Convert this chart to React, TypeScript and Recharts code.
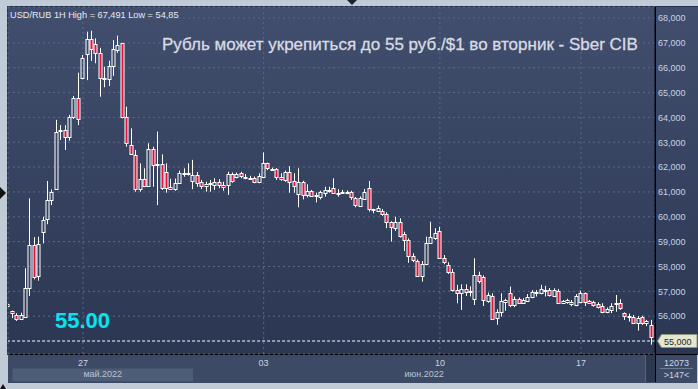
import React from 'react';
import { ComposedChart, Bar, XAxis, YAxis, CartesianGrid, ReferenceLine } from 'recharts';

const opens = [56.50, 56.20, 56.05, 55.89, 55.98, 57.12, 58.85, 57.60, 59.40, 59.90, 60.66, 61.10, 63.44, 63.49, 63.22, 64.03, 64.77, 65.57, 66.54, 67.14, 66.94, 66.58, 65.53, 65.53, 66.07, 66.71, 66.98, 64.03, 62.88, 62.49, 61.11, 61.51, 61.25, 62.72, 62.10, 62.11, 61.79, 61.19, 61.11, 61.37, 61.72, 61.76, 61.45, 61.68, 61.39, 61.24, 61.32, 61.29, 61.41, 61.28, 61.28, 61.72, 61.59, 61.75, 61.60, 61.56, 61.55, 61.41, 61.61, 62.15, 61.88, 61.92, 61.59, 61.48, 61.79, 61.44, 60.91, 61.41, 60.88, 61.04, 60.84, 60.78, 60.95, 61.03, 61.15, 60.95, 60.95, 60.96, 60.99, 60.77, 60.45, 60.72, 61.15, 60.29, 60.23, 60.23, 60.11, 59.78, 59.54, 59.78, 59.30, 59.07, 58.42, 58.23, 57.62, 58.09, 58.96, 59.16, 59.43, 58.33, 58.06, 57.79, 57.05, 56.92, 57.08, 56.96, 56.68, 57.66, 57.59, 56.62, 56.83, 55.92, 56.18, 56.58, 56.95, 56.45, 56.68, 56.52, 56.62, 56.79, 56.94, 56.92, 57.02, 57.04, 56.83, 57.03, 56.52, 56.55, 56.58, 56.45, 56.58, 56.92, 56.62, 56.56, 56.49, 56.41, 56.18, 56.25, 56.50, 56.52, 56.12, 55.98, 55.98, 55.71, 55.96, 55.71, 55.65];
const highs = [56.60, 56.22, 56.12, 56.14, 57.93, 60.74, 59.18, 59.20, 60.00, 61.44, 61.10, 63.90, 63.69, 63.69, 64.10, 64.86, 65.80, 66.51, 67.45, 67.49, 67.18, 66.80, 66.04, 66.28, 67.11, 67.29, 67.00, 64.43, 63.56, 62.69, 62.15, 61.95, 62.96, 62.82, 63.43, 62.51, 62.15, 61.53, 61.54, 61.86, 61.95, 62.15, 62.29, 61.80, 61.48, 61.41, 61.48, 61.55, 61.51, 61.41, 61.81, 61.78, 61.78, 61.81, 61.72, 61.65, 61.62, 61.75, 62.59, 62.18, 61.98, 61.96, 61.75, 61.86, 62.04, 61.75, 61.95, 61.45, 61.31, 61.08, 60.97, 61.05, 61.21, 61.21, 61.55, 61.11, 61.08, 61.06, 61.05, 60.80, 60.82, 61.12, 61.44, 60.32, 60.45, 60.31, 60.18, 59.82, 60.00, 59.94, 59.40, 59.13, 58.53, 58.28, 58.22, 59.20, 59.80, 59.54, 59.60, 58.46, 58.17, 57.90, 57.26, 57.28, 57.28, 57.20, 58.33, 57.79, 57.64, 56.95, 56.92, 56.28, 56.92, 56.70, 57.19, 56.79, 56.75, 56.72, 56.89, 57.05, 57.05, 57.26, 57.22, 57.13, 57.12, 57.09, 56.65, 56.70, 56.65, 56.89, 57.03, 56.95, 56.65, 56.62, 56.56, 56.52, 56.35, 56.52, 56.85, 56.68, 56.15, 56.10, 56.05, 56.00, 56.02, 55.85, 55.85];
const lows = [56.25, 55.92, 55.81, 55.85, 55.95, 56.81, 57.48, 57.43, 58.93, 59.70, 60.47, 61.08, 63.09, 62.69, 63.06, 63.94, 63.69, 65.53, 65.50, 66.27, 66.18, 64.83, 65.21, 65.26, 65.67, 66.60, 63.96, 62.82, 62.49, 61.01, 61.01, 61.19, 61.21, 61.21, 60.47, 61.08, 60.97, 61.08, 61.05, 61.35, 61.61, 61.66, 61.11, 61.21, 61.12, 61.01, 61.01, 61.08, 61.15, 61.05, 60.88, 61.37, 61.55, 61.55, 61.51, 61.50, 61.35, 61.35, 61.59, 61.88, 61.85, 61.48, 61.45, 61.41, 60.97, 60.97, 60.38, 60.70, 60.78, 60.81, 60.58, 60.70, 60.81, 60.97, 60.92, 60.81, 60.92, 60.91, 60.68, 60.38, 60.41, 60.68, 60.21, 60.14, 60.20, 60.04, 59.54, 59.00, 59.43, 59.16, 58.62, 58.15, 58.17, 57.60, 57.39, 58.05, 58.93, 59.07, 58.30, 58.09, 57.70, 56.99, 56.52, 56.25, 56.81, 56.79, 56.45, 57.32, 56.41, 56.54, 55.85, 55.65, 55.98, 56.22, 56.36, 56.36, 56.49, 56.49, 56.58, 56.72, 56.79, 56.88, 56.79, 56.79, 56.77, 56.49, 56.49, 56.50, 56.40, 56.40, 56.52, 56.41, 56.49, 56.38, 56.31, 56.12, 56.12, 56.12, 56.18, 56.25, 55.85, 55.78, 55.68, 55.42, 55.64, 55.60, 54.85];
const closes = [56.40, 56.12, 55.89, 56.05, 57.12, 58.85, 57.59, 58.90, 59.87, 60.68, 61.00, 63.40, 63.49, 63.22, 64.03, 64.77, 63.92, 66.38, 67.14, 66.74, 66.58, 65.57, 65.57, 66.07, 66.74, 66.91, 64.03, 62.96, 62.52, 61.11, 61.51, 61.25, 62.72, 62.08, 62.13, 61.15, 61.15, 61.12, 61.37, 61.78, 61.78, 61.78, 61.68, 61.35, 61.24, 61.32, 61.35, 61.40, 61.27, 61.19, 61.72, 61.45, 61.71, 61.64, 61.62, 61.58, 61.41, 61.64, 62.15, 61.95, 61.93, 61.59, 61.51, 61.79, 61.41, 61.24, 61.41, 60.88, 61.04, 60.85, 60.88, 60.99, 61.08, 61.08, 60.95, 60.97, 61.01, 61.01, 60.78, 60.47, 60.77, 60.99, 60.31, 60.31, 60.34, 60.10, 59.78, 59.58, 59.78, 59.24, 59.07, 58.42, 58.26, 57.62, 58.09, 58.96, 59.20, 59.34, 58.33, 58.19, 57.79, 57.05, 56.92, 57.08, 56.99, 57.00, 57.66, 57.42, 56.65, 56.85, 55.88, 56.18, 56.62, 56.65, 56.45, 56.68, 56.54, 56.65, 56.79, 56.96, 56.97, 57.08, 57.05, 56.84, 57.05, 56.52, 56.62, 56.65, 56.47, 56.81, 56.92, 56.58, 56.54, 56.45, 56.38, 56.18, 56.28, 56.41, 56.53, 56.32, 56.01, 56.00, 55.71, 55.92, 55.71, 55.82, 55.15];

const yTicks = [55, 56, 57, 58, 59, 60, 61, 62, 63, 64, 65, 66, 67, 68];
const dayTickIdx = [17, 58, 98, 130];
const dayLabels = ['27', '03', '10', '17'];
const monthStartIdx = [1, 42];
const monthLabels = ['май.2022', 'июн.2022'];
const monthShaded = [true, false];
const currentPrice = 55;
const currentLabel = '55.00';
const titleText = 'Рубль может укрепиться до 55 руб./$1 во вторник - Sber CIB';
const headerText = 'USD/RUB 1H High = 67,491 Low = 54,85';
const volumeText = '12073';
const barsText = '>147<';

const X_MAX = 146.8;
const Y_MIN = 54.4768;
const Y_MAX = 68.4427;
const PLOT_W = 647;
const pxPerIdx = PLOT_W / X_MAX;

const monthEndIdx = monthStartIdx.map((s, k) => (k + 1 < monthStartIdx.length ? monthStartIdx[k + 1] : X_MAX));
const monthMidIdx = monthStartIdx.map((s, k) => (s + monthEndIdx[k]) / 2);

const data = opens.map((o, i) => ({
  i,
  o,
  h: highs[i],
  l: lows[i],
  c: closes[i],
  range: [lows[i], highs[i]],
}));

const FONT = '"Liberation Sans", Arial, sans-serif';
const RED = '#e3143c';

const Candle = (props: any) => {
  const { x, y, width, height, payload } = props;
  if (!payload || x == null || y == null) return <g />;
  const top0 = Math.min(y, y + height);
  const hgt = Math.abs(height);
  const { o, h, l, c } = payload;
  const span = h - l;
  const toY = (v: number) => (span > 0 ? top0 + ((h - v) / span) * hgt : top0);
  const cx = Math.floor(x + width / 2) + 0.5;
  const bTop = Math.round(toY(Math.max(o, c))) + 0.5;
  let bBot = Math.round(toY(Math.min(o, c))) + 0.5;
  if (bBot - bTop < 1) bBot = bTop + 1;
  const up = c >= o;
  return (
    <g>
      <line x1={cx} x2={cx} y1={top0} y2={bTop} stroke="#ffffff" strokeWidth={1} />
      <line x1={cx} x2={cx} y1={bBot} y2={top0 + hgt} stroke="#ffffff" strokeWidth={1} />
      <rect x={cx - 1.5} y={bTop} width={3} height={bBot - bTop} fill={up ? 'none' : RED} stroke="#ffffff" strokeWidth={1} />
    </g>
  );
};

const fmtPrice = (v: number) => v.toFixed(3).replace('.', ',');

const YTick = (props: any) => {
  const { x, y, payload } = props;
  if (payload.value === currentPrice) return <g />;
  return (
    <text x={x} y={y} dy={3.3} fill="#c8d3e6" fontSize={9} fontFamily={FONT} textAnchor="start">
      {fmtPrice(payload.value)}
    </text>
  );
};

const DayTick = (props: any) => {
  const { x, y, payload } = props;
  const k = dayTickIdx.indexOf(payload.value);
  return (
    <text x={x} y={y + 12} fill="#c9d3e4" fontSize={9} fontFamily={FONT} textAnchor="middle">
      {k >= 0 ? dayLabels[k] : ''}
    </text>
  );
};

const MonthTick = (props: any) => {
  const { x, y, payload } = props;
  const k = monthMidIdx.indexOf(payload.value);
  if (k < 0) return <g />;
  const w = (monthEndIdx[k] - monthStartIdx[k]) * pxPerIdx;
  return (
    <g>
      {monthShaded[k] && <rect x={x - w / 2} y={y + 0.5} width={w} height={12.7} fill="#4d5c77" />}
      <text x={x} y={y + 9} fill="#b9c3d3" fontSize={9} fontFamily={FONT} textAnchor="middle">
        {monthLabels[k]}
      </text>
    </g>
  );
};

const PriceLabel = (props: any) => {
  const vb = props.viewBox || {};
  const lx = vb.x ?? 8;
  const ly = vb.y ?? 341;
  const rx = lx + (vb.width ?? 647);
  return (
    <g>
      <text x={lx + 47} y={ly - 13.5} fill="#06e4f2" fontSize={22} fontWeight="bold" fontFamily={FONT}>
        {currentLabel}
      </text>
      <path
        d={`M ${rx + 2.5} ${ly} L ${rx + 6.5} ${ly - 6.5} L ${rx + 42} ${ly - 6.5} L ${rx + 42} ${ly + 6.5} L ${rx + 6.5} ${ly + 6.5} Z`}
        fill="#e4e8cf"
        stroke="#8e9682"
        strokeWidth={1}
      />
      <text x={rx + 9} y={ly + 3.5} fill="#1d2433" fontSize={9} fontFamily={FONT}>
        {fmtPrice(currentPrice)}
      </text>
    </g>
  );
};

export default function App() {
  return (
    <div style={{ position: 'absolute', left: 0, top: 0, width: 698, height: 389, background: '#c1cbd8', overflow: 'hidden' }}>
      <div
        style={{
          position: 'absolute',
          left: 7,
          top: 6,
          width: 690,
          height: 348,
          background: 'linear-gradient(#414e6d, #2b3752)',
          borderTop: '1px solid #27324a',
          borderLeft: '1px solid #27324a',
        }}
      />
      <div style={{ position: 'absolute', left: 8, top: 354, width: 689, height: 28, background: '#3d4a65', borderTop: '1px solid #000' }} />
      <div style={{ position: 'absolute', left: 645, top: 355, width: 9, height: 27, background: '#2c384f', borderLeft: '1px solid #56637a' }} />
      <ComposedChart
        width={698}
        height={389}
        data={data}
        margin={{ top: 7, right: 0, bottom: 7, left: 8 }}
        style={{ position: 'absolute', left: 0, top: 0 }}
      >
        <CartesianGrid stroke="#5a6886" strokeDasharray="2 3" />
        <XAxis
          dataKey="i"
          type="number"
          domain={[0, X_MAX]}
          allowDataOverflow
          ticks={dayTickIdx}
          interval={0}
          height={14}
          axisLine={false}
          tickLine={false}
          tickSize={0}
          tickMargin={0}
          tick={<DayTick />}
        />
        <XAxis
          xAxisId="m"
          dataKey="i"
          type="number"
          domain={[0, X_MAX]}
          allowDataOverflow
          ticks={monthMidIdx}
          interval={0}
          height={14}
          axisLine={false}
          tickLine={false}
          tickSize={0}
          tickMargin={0}
          tick={<MonthTick />}
        />
        <YAxis
          orientation="right"
          width={43}
          type="number"
          domain={[Y_MIN, Y_MAX]}
          allowDataOverflow
          ticks={yTicks}
          interval={0}
          axisLine={{ stroke: '#000000' }}
          tickLine={false}
          tickSize={0}
          tickMargin={3}
          tick={<YTick />}
        />
        <Bar dataKey="range" barSize={4} isAnimationActive={false} shape={<Candle />} />
        <ReferenceLine y={currentPrice} stroke="#e8e8e8" strokeDasharray="3 2" label={<PriceLabel />} />
      </ComposedChart>
      <svg width={698} height={389} style={{ position: 'absolute', left: 0, top: 0, pointerEvents: 'none' }}>
        <line x1={655.5} x2={655.5} y1={7} y2={382} stroke="#000" />
        <text x={10} y={17.5} fill="#e6eaf2" fontSize={9.2} fontFamily={FONT}>{headerText}</text>
        <text x={162} y={50} fill="#d8dbe2" stroke="#d8dbe2" strokeWidth={0.3} fontSize={17} fontFamily={FONT}>{titleText}</text>
        <text x={676.5} y={366} fill="#c9d3e4" fontSize={9} fontFamily={FONT} textAnchor="middle">{volumeText}</text>
        <line x1={660} x2={693} y1={368.5} y2={368.5} stroke="#6d7c94" />
        <text x={676.5} y={377.5} fill="#c9d3e4" fontSize={9} fontFamily={FONT} textAnchor="middle">{barsText}</text>
        <path d="M 0 187 L 6 193 L 0 199 Z" fill="#111" />
        <path d="M 347 0 L 357 0 L 352 5 Z" fill="#1a2233" />
        <path d="M 0 389 L 3 384 L 6 389 Z" fill="#111" />
      </svg>
    </div>
  );
}
